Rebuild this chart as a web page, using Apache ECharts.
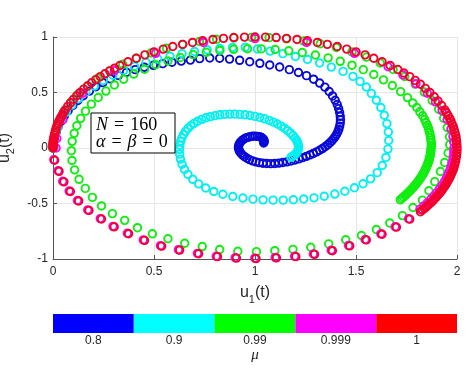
<!DOCTYPE html>
<html><head><meta charset="utf-8">
<script src="https://cdn.jsdelivr.net/npm/echarts@6/dist/echarts.min.js"></script>
<style>html,body{margin:0;padding:0;background:#fff}#c{width:474px;height:388px}</style>
</head><body><div id="c"></div>
<script>
const muLabels = ['0.8','0.9','0.99','0.999','1'];
const muColors = ['#0000ff','#00ffff','#00ff00','#ff00ff','#ff0000'];
const markerColors = ['#0808d8','#00f0f0','#10ee10','#ff00ff','#f2002a'];
const xTicks = [0,0.5,1,1.5,2];
const yTicks = [-1,-0.5,0,0.5,1];

const pts08 = [[0.000,0.000],[0.002,0.035],[0.007,0.087],[0.015,0.139],[0.025,0.190],[0.039,0.240],[0.056,0.289],[0.075,0.337],[0.098,0.383],[0.123,0.428],[0.150,0.471],[0.180,0.512],[0.212,0.552],[0.247,0.589],[0.284,0.623],[0.323,0.654],[0.364,0.682],[0.407,0.706],[0.452,0.728],[0.497,0.745],[0.543,0.760],[0.589,0.773],[0.635,0.783],[0.680,0.792],[0.726,0.805],[0.776,0.811],[0.825,0.809],[0.874,0.801],[0.924,0.790],[0.974,0.777],[1.024,0.763],[1.073,0.748],[1.122,0.730],[1.170,0.706],[1.215,0.680],[1.255,0.652],[1.290,0.620],[1.320,0.585],[1.346,0.548],[1.367,0.509],[1.384,0.469],[1.397,0.430],[1.407,0.392],[1.414,0.355],[1.419,0.320],[1.422,0.286],[1.423,0.254],[1.422,0.224],[1.419,0.196],[1.415,0.170],[1.410,0.146],[1.404,0.124],[1.397,0.103],[1.389,0.083],[1.380,0.064],[1.370,0.046],[1.359,0.028],[1.347,0.011],[1.334,-0.005],[1.320,-0.020],[1.305,-0.035],[1.289,-0.049],[1.272,-0.062],[1.254,-0.075],[1.236,-0.087],[1.217,-0.098],[1.198,-0.108],[1.178,-0.117],[1.158,-0.125],[1.138,-0.131],[1.118,-0.136],[1.098,-0.139],[1.078,-0.141],[1.058,-0.140],[1.039,-0.137],[1.021,-0.132],[1.004,-0.125],[0.988,-0.116],[0.973,-0.105],[0.960,-0.092],[0.948,-0.078],[0.938,-0.063],[0.930,-0.047],[0.924,-0.031],[0.920,-0.014],[0.918,0.003],[0.919,0.020],[0.922,0.036],[0.927,0.051],[0.934,0.065],[0.942,0.077],[0.952,0.088],[0.963,0.096],[0.975,0.102],[0.988,0.106],[1.000,0.107],[1.012,0.105],[1.023,0.101],[1.032,0.094],[1.039,0.085],[1.043,0.075],[1.045,0.064],[1.045,0.054],[1.043,0.045]];

const pts09 = [[0.000,0.000],[0.003,0.052],[0.012,0.121],[0.024,0.190],[0.043,0.257],[0.066,0.322],[0.093,0.385],[0.126,0.445],[0.163,0.503],[0.204,0.558],[0.249,0.609],[0.297,0.655],[0.349,0.699],[0.403,0.737],[0.460,0.771],[0.519,0.801],[0.579,0.827],[0.639,0.850],[0.701,0.869],[0.763,0.885],[0.826,0.897],[0.889,0.906],[0.952,0.907],[1.012,0.892],[1.075,0.873],[1.138,0.850],[1.200,0.825],[1.260,0.797],[1.320,0.766],[1.378,0.729],[1.436,0.690],[1.485,0.645],[1.520,0.600],[1.551,0.550],[1.576,0.492],[1.601,0.430],[1.623,0.365],[1.640,0.295],[1.653,0.220],[1.660,0.145],[1.662,0.068],[1.658,-0.010],[1.648,-0.085],[1.630,-0.158],[1.605,-0.222],[1.572,-0.278],[1.535,-0.322],[1.492,-0.358],[1.445,-0.390],[1.395,-0.415],[1.343,-0.435],[1.292,-0.449],[1.241,-0.459],[1.190,-0.466],[1.140,-0.470],[1.090,-0.470],[1.040,-0.467],[0.990,-0.461],[0.940,-0.451],[0.890,-0.437],[0.841,-0.417],[0.796,-0.392],[0.756,-0.360],[0.721,-0.323],[0.692,-0.282],[0.668,-0.238],[0.651,-0.192],[0.639,-0.146],[0.631,-0.100],[0.627,-0.055],[0.626,-0.012],[0.628,0.025],[0.632,0.060],[0.638,0.092],[0.646,0.122],[0.656,0.150],[0.668,0.176],[0.682,0.200],[0.698,0.222],[0.716,0.241],[0.736,0.258],[0.757,0.272],[0.779,0.283],[0.802,0.292],[0.826,0.299],[0.850,0.303],[0.875,0.305],[0.900,0.305],[0.925,0.303],[0.950,0.299],[0.975,0.293],[1.000,0.285],[1.024,0.275],[1.047,0.263],[1.070,0.249],[1.091,0.233],[1.111,0.216],[1.130,0.197],[1.147,0.177],[1.162,0.156],[1.176,0.134],[1.188,0.112],[1.198,0.090],[1.206,0.068],[1.212,0.046],[1.215,0.025],[1.216,0.005],[1.214,-0.014],[1.210,-0.032],[1.204,-0.048],[1.196,-0.062],[1.187,-0.074],[1.178,-0.084]];

const pts099 = [[0.000,0.000],[0.002,0.070],[0.012,0.156],[0.030,0.242],[0.054,0.326],[0.086,0.407],[0.125,0.485],[0.171,0.559],[0.223,0.629],[0.281,0.695],[0.345,0.754],[0.413,0.808],[0.485,0.856],[0.562,0.898],[0.642,0.932],[0.725,0.959],[0.810,0.980],[0.896,0.992],[0.983,0.997],[1.070,0.994],[1.156,0.983],[1.240,0.964],[1.323,0.939],[1.403,0.906],[1.480,0.866],[1.552,0.819],[1.620,0.766],[1.684,0.708],[1.741,0.644],[1.793,0.576],[1.838,0.504],[1.877,0.428],[1.909,0.349],[1.934,0.268],[1.952,0.185],[1.963,0.101],[1.964,0.030],[1.956,-0.045],[1.939,-0.131],[1.918,-0.212],[1.890,-0.303],[1.861,-0.385],[1.829,-0.470],[1.782,-0.536],[1.730,-0.609],[1.667,-0.676],[1.601,-0.734],[1.527,-0.788],[1.449,-0.827],[1.365,-0.864],[1.276,-0.894],[1.188,-0.913],[1.098,-0.925],[1.007,-0.934],[0.915,-0.930],[0.825,-0.915],[0.739,-0.888],[0.652,-0.858],[0.569,-0.818],[0.492,-0.773],[0.418,-0.718],[0.355,-0.652],[0.294,-0.591],[0.240,-0.522],[0.195,-0.445],[0.160,-0.364],[0.129,-0.282],[0.107,-0.197],[0.094,-0.113],[0.091,-0.025],[0.095,0.060],[0.105,0.132],[0.118,0.200],[0.137,0.267],[0.161,0.332],[0.190,0.395],[0.224,0.455],[0.262,0.513],[0.304,0.568],[0.350,0.619],[0.400,0.666],[0.453,0.710],[0.509,0.750],[0.569,0.784],[0.630,0.815],[0.694,0.841],[0.759,0.862],[0.826,0.878],[0.894,0.889],[0.963,0.894],[1.031,0.893],[1.100,0.887],[1.167,0.876],[1.234,0.860],[1.299,0.838],[1.362,0.812],[1.422,0.781],[1.480,0.746],[1.536,0.706],[1.588,0.662],[1.636,0.614],[1.680,0.563],[1.721,0.508],[1.755,0.454],[1.781,0.406],[1.801,0.365],[1.816,0.326],[1.830,0.291],[1.840,0.257],[1.847,0.227],[1.853,0.205],[1.858,0.182],[1.861,0.160],[1.865,0.137],[1.867,0.114],[1.870,0.091],[1.871,0.069],[1.873,0.046],[1.873,0.023],[1.872,0.000],[1.871,-0.015],[1.870,-0.030],[1.869,-0.046],[1.868,-0.061],[1.866,-0.076],[1.864,-0.091],[1.862,-0.106],[1.860,-0.121],[1.856,-0.136],[1.854,-0.151],[1.850,-0.165],[1.847,-0.180],[1.843,-0.195],[1.839,-0.209],[1.835,-0.224],[1.831,-0.238],[1.825,-0.252],[1.821,-0.267],[1.815,-0.281],[1.810,-0.295],[1.804,-0.309],[1.798,-0.323],[1.792,-0.336],[1.786,-0.350],[1.779,-0.363],[1.772,-0.377],[1.765,-0.390],[1.758,-0.403],[1.750,-0.416],[1.743,-0.429],[1.735,-0.441],[1.727,-0.454],[1.719,-0.467]];

const pts0999 = [[0.004,-0.105],[0.025,-0.205],[0.048,-0.300],[0.080,-0.388],[0.121,-0.473],[0.172,-0.558],[0.234,-0.636],[0.297,-0.706],[0.368,-0.768],[0.447,-0.828],[0.532,-0.880],[0.621,-0.916],[0.715,-0.949],[0.808,-0.975],[0.902,-0.988],[0.999,-0.992],[1.100,-0.986],[1.196,-0.975],[1.289,-0.954],[1.377,-0.921],[1.463,-0.878],[1.545,-0.824],[1.623,-0.773],[1.694,-0.709],[1.760,-0.637],[1.817,-0.551],[1.835,-0.522],[1.853,-0.493],[1.870,-0.462],[1.885,-0.432],[1.900,-0.401],[1.913,-0.369],[1.926,-0.337],[1.937,-0.304],[1.947,-0.272],[1.956,-0.238],[1.963,-0.205],[1.970,-0.171],[1.975,-0.137],[1.980,-0.103],[1.983,-0.069],[1.984,-0.034],[1.985,0.000],[1.984,0.052],[1.980,0.103],[1.970,0.171],[1.951,0.255],[1.926,0.337],[1.893,0.416],[1.853,0.493],[1.797,0.579],[1.732,0.659],[1.659,0.732],[1.493,0.853],[1.255,0.951],[1.000,0.985],[0.745,0.951],[0.508,0.853],[0.304,0.697],[0.147,0.493],[0.049,0.255],[0.019,0.086],[0.015,0.000]];

const pts1 = [[0.008,-0.110],[0.030,-0.210],[0.054,-0.305],[0.086,-0.392],[0.127,-0.477],[0.178,-0.562],[0.240,-0.640],[0.303,-0.710],[0.374,-0.772],[0.453,-0.832],[0.538,-0.884],[0.627,-0.920],[0.721,-0.953],[0.814,-0.979],[0.908,-0.992],[1.005,-0.996],[1.106,-0.990],[1.202,-0.979],[1.295,-0.958],[1.383,-0.925],[1.469,-0.882],[1.551,-0.828],[1.629,-0.777],[1.700,-0.713],[1.766,-0.641],[1.819,-0.574],[1.829,-0.559],[1.839,-0.545],[1.848,-0.530],[1.857,-0.515],[1.866,-0.500],[1.875,-0.485],[1.883,-0.470],[1.891,-0.454],[1.899,-0.438],[1.906,-0.423],[1.914,-0.407],[1.921,-0.391],[1.927,-0.375],[1.934,-0.358],[1.940,-0.342],[1.946,-0.326],[1.951,-0.309],[1.956,-0.292],[1.961,-0.276],[1.966,-0.259],[1.970,-0.242],[1.974,-0.225],[1.978,-0.208],[1.982,-0.191],[1.985,-0.174],[1.989,-0.148],[1.993,-0.122],[1.995,-0.096],[1.998,-0.070],[1.999,-0.044],[2.000,-0.017],[2.000,0.009],[1.999,0.035],[1.998,0.061],[1.996,0.087],[1.994,0.113],[1.990,0.139],[1.986,0.165],[1.982,0.191],[1.976,0.216],[1.970,0.242],[1.964,0.267],[1.956,0.292],[1.948,0.317],[1.940,0.342],[1.924,0.383],[1.906,0.423],[1.887,0.462],[1.866,0.500],[1.843,0.537],[1.819,0.574],[1.793,0.609],[1.766,0.643],[1.737,0.676],[1.707,0.707],[1.669,0.743],[1.629,0.777],[1.588,0.809],[1.545,0.839],[1.500,0.866],[1.454,0.891],[1.407,0.914],[1.358,0.934],[1.309,0.951],[1.259,0.966],[1.208,0.978],[1.156,0.988],[1.105,0.995],[1.052,0.999],[1.000,1.000],[0.948,0.999],[0.895,0.995],[0.844,0.988],[0.792,0.978],[0.741,0.966],[0.691,0.951],[0.642,0.934],[0.593,0.914],[0.546,0.891],[0.500,0.866],[0.455,0.839],[0.412,0.809],[0.371,0.777],[0.331,0.743],[0.305,0.719],[0.281,0.695],[0.257,0.669],[0.234,0.643],[0.212,0.616],[0.191,0.588],[0.171,0.559],[0.152,0.530],[0.134,0.500],[0.117,0.470],[0.101,0.438],[0.087,0.407],[0.073,0.375],[0.060,0.342],[0.053,0.322],[0.047,0.302],[0.041,0.282],[0.035,0.262],[0.030,0.242],[0.025,0.222],[0.020,0.201],[0.016,0.181],[0.013,0.160],[0.010,0.139],[0.007,0.118],[0.005,0.098],[0.004,0.087],[0.003,0.078],[0.002,0.070],[0.002,0.061],[0.001,0.052],[0.001,0.044],[0.001,0.035],[0.000,0.026],[0.000,0.017],[0.000,0.009],[0.000,0.000]];

const seriesData = [pts08, pts09, pts099, pts0999, pts1];

const chart = echarts.init(document.getElementById('c'), null, {renderer:'canvas'});
const axisCol = '#555';
const txtCol = '#262626';
const nameRich = {
  m:{fontSize:16, lineHeight:24, fontFamily:'Liberation Sans', color:txtCol},
  s:{fontSize:11, lineHeight:10, verticalAlign:'bottom', fontFamily:'Liberation Sans', color:txtCol}
};
const option = {
  animation:false,
  backgroundColor:'#fff',
  grid:[
    {left:53, top:37, width:404, height:222, containLabel:false, outerBoundsMode:'none'},
    {left:53, top:314, width:404, height:19, containLabel:false, outerBoundsMode:'none'}
  ],
  xAxis:[
    {type:'value', gridIndex:0, min:xTicks[0], max:xTicks[xTicks.length-1], interval:xTicks[1]-xTicks[0],
     axisLine:{show:true, onZero:false, lineStyle:{color:axisCol, width:1}},
     axisTick:{show:true, inside:true, length:4, lineStyle:{color:axisCol}},
     axisLabel:{margin:7, fontSize:12, lineHeight:12, color:txtCol, fontFamily:'Liberation Sans'},
     splitLine:{show:true, lineStyle:{color:'#e6e6e6', width:1}},
     name:'{m|u}{s|1}{m|(t)}', nameLocation:'middle', nameGap:22,
     nameTextStyle:{rich:nameRich}},
    {type:'category', gridIndex:1, data:muLabels,
     axisLine:{show:false}, axisTick:{show:false},
     axisLabel:{margin:2, fontSize:12, lineHeight:12, color:txtCol, fontFamily:'Liberation Sans'},
     name:'μ', nameLocation:'middle', nameGap:8,
     nameTextStyle:{fontSize:15, fontStyle:'italic', fontFamily:'Liberation Serif', color:txtCol}}
  ],
  yAxis:[
    {type:'value', gridIndex:0, min:yTicks[0], max:yTicks[yTicks.length-1], interval:yTicks[1]-yTicks[0],
     axisLine:{show:true, onZero:false, lineStyle:{color:axisCol, width:1}},
     axisTick:{show:true, inside:true, length:4, lineStyle:{color:axisCol}},
     axisLabel:{margin:5, fontSize:12, color:txtCol, fontFamily:'Liberation Sans'},
     splitLine:{show:true, lineStyle:{color:'#e6e6e6', width:1}},
     name:'{m|u}{s|2}{m|(t)}', nameLocation:'middle', nameGap:26,
     nameTextStyle:{rich:nameRich}},
    {type:'value', gridIndex:1, min:0, max:1, show:false}
  ],
  series: seriesData.map((d,i)=>({
    type:'scatter', xAxisIndex:0, yAxisIndex:0, data:d, symbol:'circle', symbolSize:7.5,
    silent:true, z:2+i,
    itemStyle:{color:'rgba(0,0,0,0)', borderColor:markerColors[i], borderWidth:1.9, opacity:1}
  })).concat([{
    type:'bar', xAxisIndex:1, yAxisIndex:1, barWidth:'100%', barGap:'0%', silent:true,
    data: muLabels.map((m,i)=>({value:1, itemStyle:{color:muColors[i]}}))
  }]),
  graphic:[
    {type:'rect', z:100, shape:{x:91, y:113, width:84, height:40}, style:{fill:'#fff', stroke:'#000', lineWidth:1}},
    {type:'text', z:101, x:96, y:117, style:{
      text:'{i|N}\u2004=\u2004160\n{i|α}\u2004=\u2004{i|β}\u2004=\u20040',
      fontSize:18, fontFamily:'Liberation Serif', fill:'#000', lineHeight:17,
      rich:{i:{fontStyle:'italic', fontSize:18, fontFamily:'Liberation Serif', lineHeight:17}}
    }}
  ]
};
chart.setOption(option);
</script></body></html>
